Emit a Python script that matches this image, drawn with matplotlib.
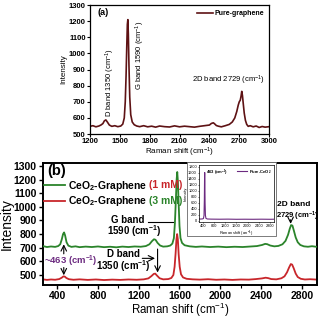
import matplotlib.pyplot as plt
from matplotlib.patches import Rectangle
from matplotlib.ticker import MultipleLocator

plt.rcParams['font.family'] = ['Liberation Sans', 'DejaVu Sans']
plt.rcParams['font.weight'] = 'bold'
plt.rcParams['mathtext.default'] = 'regular'

# (a) pure graphene spectrum
pure_graphene = [(1200, 548), (1230, 552), (1260, 545), (1290, 550), (1310, 556), (1330, 565),
                 (1345, 582), (1360, 588), (1375, 575), (1395, 556), (1420, 548), (1450, 552),
                 (1480, 546), (1510, 550), (1530, 562), (1545, 600), (1555, 700), (1563, 860),
                 (1570, 1040), (1576, 1180), (1581, 1210), (1586, 1120), (1592, 930), (1600, 730),
                 (1610, 620), (1625, 575), (1645, 558), (1670, 550), (1700, 546), (1740, 552),
                 (1780, 545), (1820, 549), (1860, 543), (1900, 550), (1950, 546), (2000, 544),
                 (2050, 551), (2100, 545), (2150, 549), (2200, 546), (2250, 543), (2300, 548),
                 (2350, 552), (2400, 556), (2420, 566), (2440, 570), (2455, 562), (2470, 553),
                 (2490, 549), (2520, 545), (2560, 552), (2600, 560), (2630, 575), (2655, 600),
                 (2675, 640), (2690, 680), (2700, 700), (2710, 710), (2718, 735), (2725, 765),
                 (2732, 740), (2740, 690), (2750, 630), (2762, 585), (2775, 560), (2790, 548),
                 (2810, 552), (2840, 545), (2870, 550), (2900, 541), (2930, 547), (2960, 543),
                 (3000, 546)]

# (b) CeO2-graphene composites
ceo2_1mm = [(260, 712), (300, 705), (340, 709), (380, 706), (410, 712), (430, 725), (445, 760),
            (458, 800), (468, 812), (478, 790), (492, 740), (510, 715), (540, 706), (580, 710),
            (620, 704), (680, 708), (740, 705), (800, 709), (860, 704), (920, 707), (980, 703),
            (1040, 708), (1100, 705), (1160, 709), (1220, 707), (1270, 712), (1305, 725),
            (1330, 748), (1350, 762), (1365, 758), (1385, 735), (1410, 716), (1440, 708),
            (1480, 710), (1510, 716), (1530, 730), (1545, 770), (1555, 880), (1565, 1060),
            (1572, 1200), (1578, 1255), (1584, 1190), (1592, 1020), (1600, 860), (1610, 770),
            (1625, 735), (1650, 718), (1700, 710), (1760, 706), (1820, 709), (1900, 705),
            (1980, 708), (2060, 704), (2140, 707), (2220, 705), (2300, 709), (2360, 712),
            (2410, 720), (2440, 728), (2460, 726), (2490, 716), (2530, 710), (2570, 713),
            (2610, 725), (2640, 750), (2665, 795), (2682, 840), (2695, 866), (2708, 862),
            (2722, 825), (2740, 775), (2760, 740), (2785, 720), (2820, 710), (2860, 707),
            (2900, 711), (2950, 706)]

ceo2_3mm = [(260, 468), (300, 464), (340, 467), (380, 465), (420, 470), (445, 480), (462, 490),
            (475, 488), (490, 478), (515, 469), (560, 465), (620, 468), (700, 464), (780, 467),
            (860, 463), (940, 466), (1020, 464), (1100, 467), (1180, 465), (1250, 468),
            (1295, 475), (1325, 492), (1348, 508), (1362, 510), (1380, 495), (1405, 476),
            (1440, 468), (1490, 470), (1520, 478), (1540, 500), (1552, 560), (1562, 660),
            (1570, 760), (1577, 800), (1584, 760), (1592, 650), (1602, 560), (1615, 505),
            (1635, 482), (1670, 472), (1730, 468), (1800, 466), (1880, 469), (1960, 465),
            (2040, 467), (2120, 464), (2200, 467), (2280, 466), (2350, 470), (2410, 475),
            (2445, 480), (2470, 477), (2500, 470), (2550, 468), (2600, 476), (2630, 490),
            (2655, 520), (2675, 555), (2692, 580), (2705, 576), (2720, 550), (2740, 510),
            (2760, 485), (2790, 472), (2830, 467), (2880, 469), (2950, 466)]

# inset: pure CeO2
pure_ceo2 = [(260, 60), (320, 58), (380, 62), (420, 75), (440, 180), (452, 700), (460, 1450),
             (465, 1600), (470, 1300), (478, 600), (490, 180), (510, 80), (560, 60), (700, 55),
             (1000, 52), (1300, 55), (1600, 50), (1900, 52), (2200, 50), (2500, 53), (2800, 50),
             (2950, 52)]

c_gra = '#5e1214'
c_green = '#2b842b'
c_red = '#c8262b'
c_purple = '#6c2a80'


def xy(pairs):
    return [p[0] for p in pairs], [p[1] for p in pairs]


fig = plt.figure(figsize=(3.2, 3.2), dpi=100)

# ---------- panel (a) ----------
ax1 = fig.add_axes([0.281, 0.581, 0.560, 0.403])
x, y = xy(pure_graphene)
ax1.plot(x, y, color=c_gra, lw=1.2, label='Pure-graphene')
ax1.set_xlim(1200, 3000)
ax1.set_ylim(500, 1300)
ax1.xaxis.set_major_locator(MultipleLocator(300))
ax1.yaxis.set_major_locator(MultipleLocator(100))
ax1.tick_params(labelsize=5.5, length=2, width=0.8, direction='out', pad=1)
ax1.set_xlabel('Raman shift (cm$^{-1}$)', fontsize=5.8, labelpad=0.5)
ax1.set_ylabel('Intensity', fontsize=5.8, labelpad=1)
for s in ax1.spines.values():
    s.set_linewidth(0.9)
ax1.legend(loc='upper right', fontsize=5, frameon=False, handlelength=2.2,
           handletextpad=0.3, borderaxespad=0.3)
ax1.text(0.04, 0.92, '(a)', transform=ax1.transAxes, fontsize=6.5)
ax1.text(1405, 605, 'D band 1350 (cm$^{-1}$)', rotation=90, ha='center', va='bottom',
         fontsize=5.5, fontweight='normal')
ax1.text(1710, 775, 'G band 1590 (cm$^{-1}$)', rotation=90, ha='center', va='bottom',
         fontsize=5.5, fontweight='normal')
ax1.text(2590, 790, '2D band 2729 (cm$^{-1}$)', ha='center', va='bottom',
         fontsize=5.5, fontweight='normal')

# ---------- panel (b) ----------
ax2 = fig.add_axes([0.134, 0.11, 0.857, 0.381])
x, y = xy(ceo2_3mm)
ax2.plot(x, y, color=c_red, lw=1.3, label='CeO$_2$-Graphene', zorder=2)
x, y = xy(ceo2_1mm)
ax2.plot(x, y, color=c_green, lw=1.3, label='CeO$_2$-Graphene', zorder=3)
ax2.set_xlim(260, 2950)
ax2.set_ylim(428, 1322)
ax2.xaxis.set_major_locator(MultipleLocator(400))
ax2.xaxis.set_minor_locator(MultipleLocator(200))
ax2.yaxis.set_major_locator(MultipleLocator(100))
ax2.tick_params(which='major', labelsize=7.5, length=3, width=1, direction='out', pad=1.5)
ax2.tick_params(which='minor', length=2, width=0.8, direction='out')
ax2.set_xlabel('Raman shift (cm$^{-1}$)', fontsize=8.3, labelpad=0)
ax2.set_ylabel('Intensity', fontsize=10, labelpad=0)
for s in ax2.spines.values():
    s.set_linewidth(1.4)

h, l = ax2.get_legend_handles_labels()
leg = ax2.legend([h[1], h[0]], [l[1], l[0]], loc='upper left', bbox_to_anchor=(-0.012, 0.905),
                 fontsize=7.5, frameon=False, handlelength=2.0, handletextpad=0.3,
                 labelspacing=0.15, borderaxespad=0)
t1, t2 = leg.get_texts()
ax2.annotate('(1 mM)', xy=(1, 0), xycoords=t1, xytext=(1.4, 1.6), textcoords='offset points',
             va='bottom', ha='left', fontsize=7.5, color=c_red, zorder=7)
ax2.annotate('(3 mM)', xy=(1, 0), xycoords=t2, xytext=(1.4, 1.6), textcoords='offset points',
             va='bottom', ha='left', fontsize=7.5, color=c_green, zorder=7)

ax2.text(0.015, 0.9, '(b)', transform=ax2.transAxes, fontsize=10.5)
ax2.text(1090, 905, 'G band', ha='center', va='center', fontsize=7)
ax2.plot([1290, 1540], [890, 890], color='black', lw=0.8)
ax2.text(1160, 820, '1590 (cm$^{-1}$)', ha='center', va='center', fontsize=7)
ax2.text(1050, 655, 'D band', ha='center', va='center', fontsize=7)
ax2.annotate('', xy=(1360, 622), xytext=(1235, 622),
             arrowprops=dict(arrowstyle='->', lw=0.8, color='black', shrinkA=0, shrinkB=0))
ax2.text(1050, 567, '1350 (cm$^{-1}$)', ha='center', va='center', fontsize=7)
ax2.annotate('', xy=(1385, 518), xytext=(1385, 690),
             arrowprops=dict(arrowstyle='->', lw=0.8, color='black', shrinkA=0, shrinkB=0))
ax2.text(530, 603, '~463 (cm$^{-1}$)', ha='center', va='center', fontsize=6.8, color=c_purple)
ax2.annotate('', xy=(465, 725), xytext=(465, 655),
             arrowprops=dict(arrowstyle='->', lw=0.8, color='black', shrinkA=0, shrinkB=0))
ax2.annotate('', xy=(465, 498), xytext=(465, 555),
             arrowprops=dict(arrowstyle='->', lw=0.8, color='black', shrinkA=0, shrinkB=0))
ax2.text(2720, 1020, '2D band', ha='center', va='center', fontsize=6)
ax2.text(2758, 932, '2729 (cm$^{-1}$)', ha='center', va='center', fontsize=5.5)
ax2.annotate('', xy=(2690, 875), xytext=(2690, 905),
             arrowprops=dict(arrowstyle='->', lw=0.8, color='black', shrinkA=0, shrinkB=0))

# white box behind the inset
ax2.add_patch(Rectangle((187 / 320, 1 - 236 / 320), 89 / 320, 74 / 320, transform=fig.transFigure,
                        facecolor='white', edgecolor='#666666', lw=0.6, clip_on=False, zorder=5))

# ---------- inset ----------
ins = fig.add_axes([199 / 320, 1 - 222 / 320, 75 / 320, 57 / 320])
x, y = xy(pure_ceo2)
ins.plot(x, y, color=c_purple, lw=0.8, label='Pure-CeO$_2$')
ins.set_xlim(260, 2950)
ins.set_ylim(-40, 1850)
ins.xaxis.set_major_locator(MultipleLocator(400))
ins.yaxis.set_major_locator(MultipleLocator(200))
ins.tick_params(labelsize=2.8, length=1, width=0.4, pad=0.5)
for lab in ins.get_xticklabels() + ins.get_yticklabels():
    lab.set_fontweight('normal')
ins.set_xlabel('Raman shift (cm$^{-1}$)', fontsize=2.8, labelpad=0.3, fontweight='normal')
ins.set_ylabel('Intensity', fontsize=2.8, labelpad=0.5, fontweight='normal')
for s in ins.spines.values():
    s.set_linewidth(0.5)
ins.legend(loc='upper right', fontsize=3, frameon=False, handlelength=2.5,
           handletextpad=0.3, borderaxespad=0.3)
ins.text(520, 1580, '463 (cm$^{-1}$)', fontsize=3, va='center', ha='left')

fig.savefig('out.png', dpi=100)
